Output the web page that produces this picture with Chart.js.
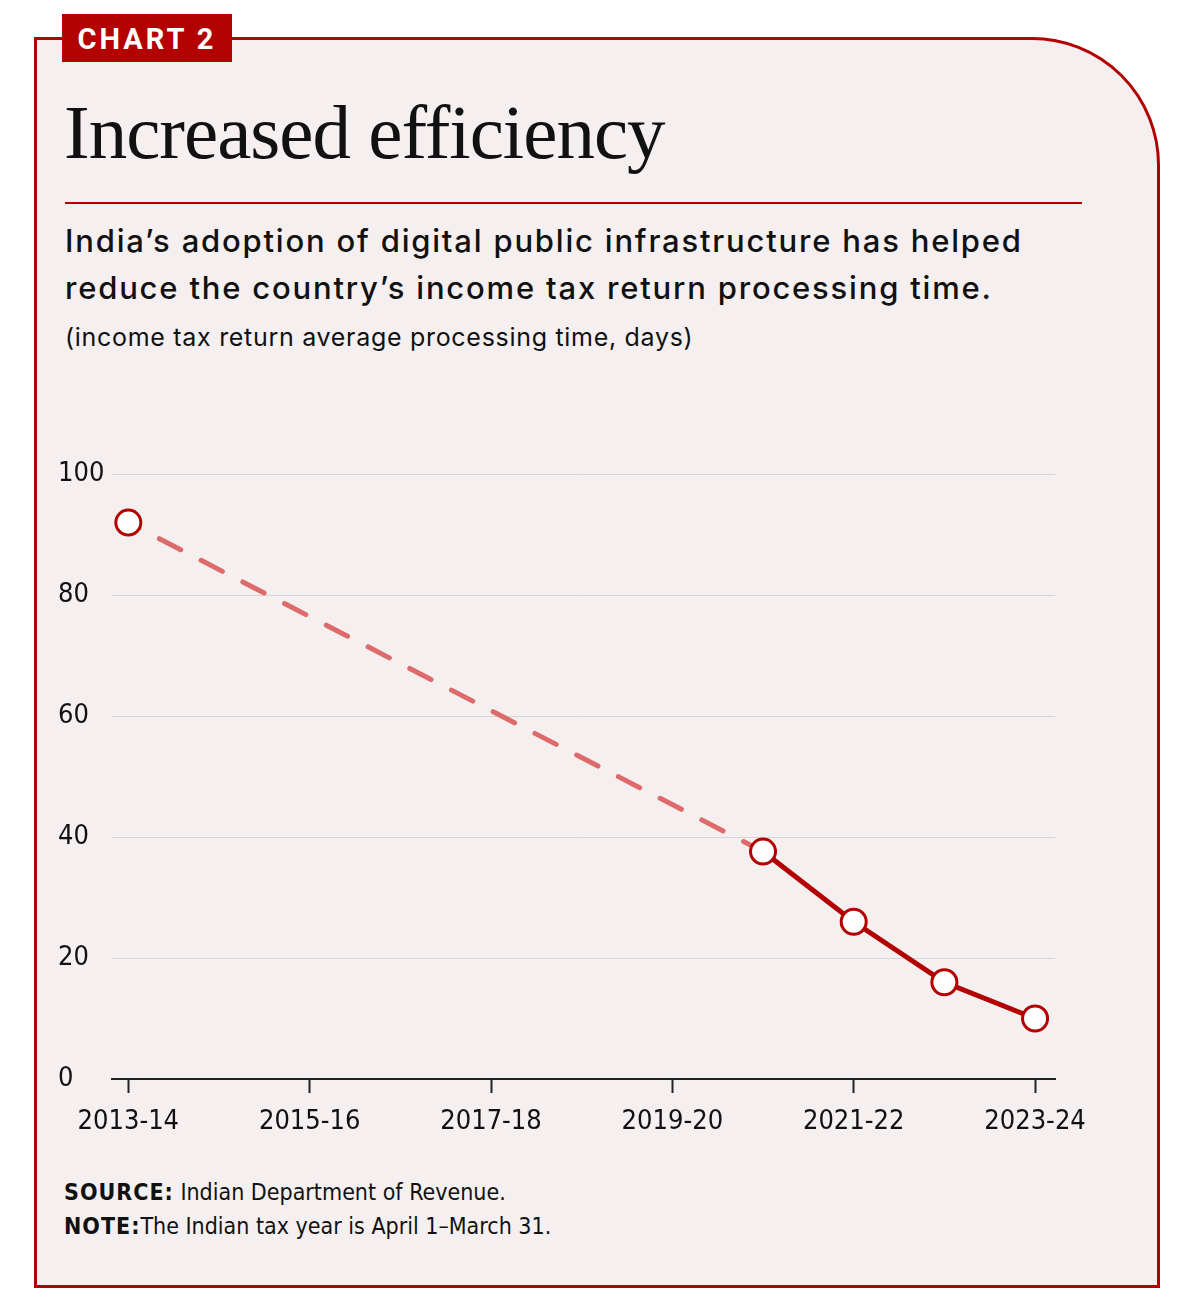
<!DOCTYPE html>
<html>
<head>
<meta charset="utf-8">
<script src="https://cdn.jsdelivr.net/npm/chart.js@4.4.1/dist/chart.umd.min.js"></script>
<style>
  html, body { margin: 0; padding: 0; background: #ffffff; }
  body { width: 1184px; height: 1315px; position: relative; overflow: hidden; }
  .frame {
    position: absolute; left: 34px; top: 37px; width: 1120px; height: 1245px;
    background: #f5eff0; border: 3px solid #b30000; border-top-right-radius: 128px;
  }
  .badge {
    position: absolute; left: 62px; top: 14px; width: 170px; height: 48px;
    background: #b30000; color: #fff; font: 700 29px "Roboto", sans-serif;
    letter-spacing: 3px; line-height: 50px; text-align: center;
  }
  .title {
    position: absolute; left: 64px; top: 88px; margin: 0;
    font: 400 77px "Liberation Serif", serif; letter-spacing: -1px; color: #111;
  }
  .rule { position: absolute; left: 65px; top: 202px; width: 1017px; height: 2px; background: #b30000; }
  .sub {
    position: absolute; left: 65px; top: 217px; width: 1080px; margin: 0;
    font: 500 31px "Inter", sans-serif; letter-spacing: 1.8px; line-height: 47px; color: #111;
  }
  .unit {
    position: absolute; left: 65px; top: 322px; margin: 0;
    font: 400 25px "Inter", sans-serif; letter-spacing: 0.7px; color: #111;
  }
  .notes {
    position: absolute; left: 64px; top: 1175px; margin: 0;
    font: 400 23px "DejaVu Sans Condensed", sans-serif; line-height: 34px; color: #111;
  }
  .notes b { font-weight: 700; letter-spacing: 1px; }
  #wrap { position: absolute; left: 40px; top: 446px; width: 1065px; height: 683px; }
</style>
</head>
<body>
<div class="frame"></div>
<div class="badge">CHART 2</div>
<h1 class="title">Increased efficiency</h1>
<div class="rule"></div>
<p class="sub">India’s adoption of digital public infrastructure has helped<br>reduce the country’s income tax return processing time.</p>
<p class="unit">(income tax return average processing time, days)</p>
<p class="notes"><b>SOURCE:</b> Indian Department of Revenue.<br><b>NOTE:</b>The Indian tax year is April 1–March 31.</p>
<div id="wrap"><canvas id="chart"></canvas></div>
<script>
// Data
var years = ["2013-14", "2014-15", "2015-16", "2016-17", "2017-18", "2018-19",
             "2019-20", "2020-21", "2021-22", "2022-23", "2023-24"];
var processingDays = [92, null, null, null, null, null, null, 37.6, 26, 16, 10];
var firstAnnualIndex = 7;   // from here on the series is reported every year
var yTicks = [0, 20, 40, 60, 80, 100];
var xTicks = [0, 2, 4, 6, 8, 10];

var darkRed = "#b30000";
var lightRed = "#de6b6b";
var tickFont = { family: "'DejaVu Sans Condensed', sans-serif", size: 27 };

function toPoints(filter) {
    return processingDays.map(function (v, i) {
        return { x: i, y: filter(i) ? v : null };
    });
}

var chartData = {
    datasets: [{
        // points on top
        data: toPoints(function () { return true; }),
        showLine: false,
        pointRadius: 12.5,
        pointBorderWidth: 3,
        pointBackgroundColor: "#ffffff",
        pointBorderColor: darkRed,
        order: 0
    }, {
        data: toPoints(function (i) { return i >= firstAnnualIndex; }),
        borderColor: darkRed,
        borderWidth: 5,
        pointRadius: 0,
        order: 1
    }, {
        data: toPoints(function (i) { return i <= firstAnnualIndex; }),
        borderColor: lightRed,
        borderWidth: 5,
        borderDash: [24, 23],
        borderDashOffset: 12,
        borderCapStyle: "round",
        spanGaps: true,
        pointRadius: 0,
        order: 2
    }]
};

var chartOptions = {
    responsive: true,
    maintainAspectRatio: false,
    animation: false,
    layout: { padding: { left: 18, right: 50, top: 20, bottom: 0 } },
    plugins: { legend: { display: false }, tooltip: { enabled: false } },
    scales: {
        x: {
            type: "linear",
            min: -0.18,
            max: 10.22,
            afterBuildTicks: function (scale) {
                scale.ticks = xTicks.map(function (v) { return { value: v }; });
            },
            afterFit: function (scale) { scale.height = 50; },
            ticks: {
                color: "#111",
                font: tickFont,
                padding: 13,
                maxRotation: 0,
                autoSkip: false,
                callback: function (v) { return years[v]; }
            },
            grid: {
                drawOnChartArea: false,
                drawTicks: true,
                tickLength: 14,
                tickWidth: 2,
                tickColor: "#222"
            },
            border: { display: true, color: "#222", width: 2 }
        },
        y: {
            min: 0,
            max: 100,
            afterBuildTicks: function (scale) {
                scale.ticks = yTicks.map(function (v) { return { value: v }; });
            },
            afterFit: function (scale) { scale.width = 54; },
            ticks: {
                color: "#111",
                font: tickFont,
                crossAlign: "far",
                padding: 12
            },
            grid: { color: "#d6d6d6", lineWidth: 1, drawTicks: false },
            border: { display: false }
        }
    }
};

var ctx = document.getElementById("chart");
var taxChart = new Chart(ctx, { type: "line", data: chartData, options: chartOptions });
</script>
</body>
</html>
